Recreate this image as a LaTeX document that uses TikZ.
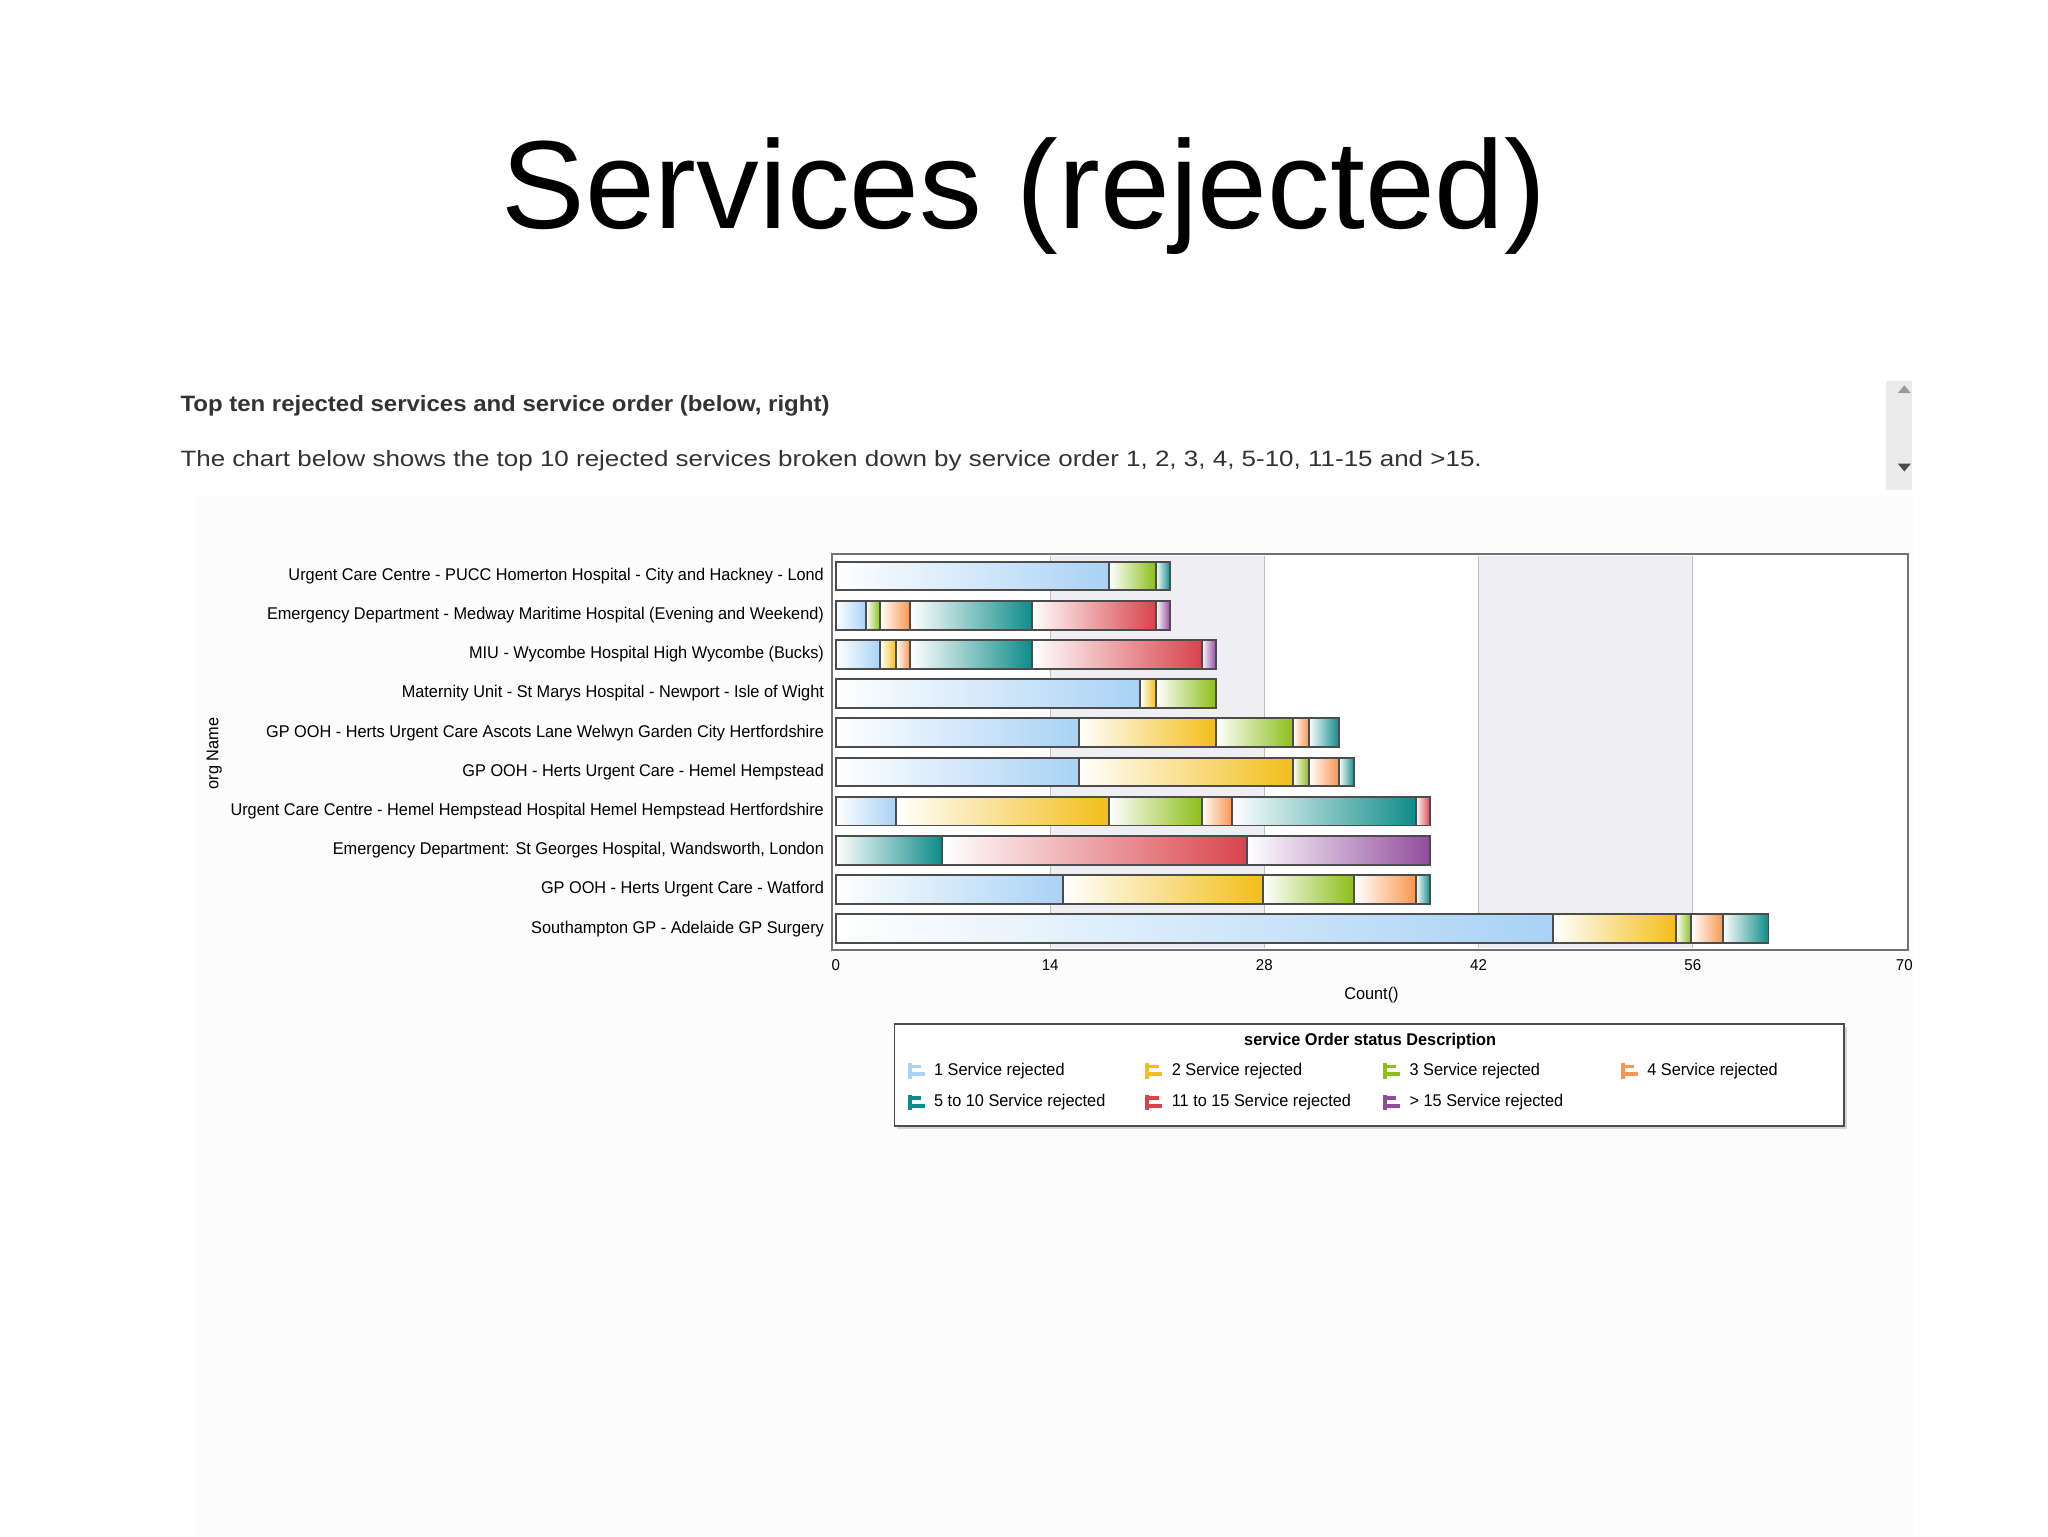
\documentclass[tikz,border=0pt]{standalone}
\usepackage{fontspec}
\setmainfont{Liberation Sans}
\usetikzlibrary{shadows}
\definecolor{cb}{HTML}{A9D2F5}
\definecolor{cy}{HTML}{F3BE19}
\definecolor{cg}{HTML}{8DBE1A}
\definecolor{co}{HTML}{FA9650}
\definecolor{ct}{HTML}{0F8C8A}
\definecolor{cr}{HTML}{D9434B}
\definecolor{cp}{HTML}{914C9C}
\definecolor{band}{HTML}{EFEEF2}
\newcommand{\nar}[1]{\scalebox{0.96}[1]{#1}}
\tikzset{seg/.style={draw=black!70,line width=1.5pt,left color=white,right color=#1},
lab/.style={anchor=east,font=\fontsize{13}{15}\selectfont,inner sep=0},
leg/.style={anchor=west,font=\fontsize{13}{15}\selectfont,inner sep=0}}
\begin{document}
\begin{tikzpicture}[x=1pt,y=-1pt]
\useasboundingbox (0,0) rectangle (1568,1176);
\fill[white] (0,0) rectangle (1568,1176);
\fill[black!1] (150,380) rectangle (1465,1176);
\node[font=\fontsize{96}{100}\selectfont] (title) at (784,150) {Services (rejected)};
\node[anchor=west,font=\bfseries\fontsize{17}{18}\selectfont,text=black!80,inner sep=0] (h1) at (138,311) {\scalebox{1.08}[1]{Top ten rejected services and service order (below, right)}};
\node[anchor=west,font=\fontsize{17}{18}\selectfont,text=black!80,inner sep=0] (h2) at (138,353) {\scalebox{1.17}[1]{The chart below shows the top 10 rejected services broken down by service order 1, 2, 3, 4, 5-10, 11-15 and >15.}};
% scrollbar
\fill[black!8] (1444,292) rectangle (1464,375);
\fill[black!40] (1453,301) -- (1463,301) -- (1458,295) -- cycle;
\fill[black!70] (1453,355) -- (1463,355) -- (1458,361) -- cycle;
% chart
\fill[white] (637,424) rectangle (1461,727);
\fill[band] (804,426) rectangle (968,726);
\fill[band] (1132,426) rectangle (1296,726);
\foreach \x in {804,968,1132,1296} \draw[black!25] (\x,426) -- (\x,726);
\draw[black!55,line width=1.5pt] (637,424) rectangle (1461,727);
\foreach \x/\t in {640/0,804/14,968/28,1132/42,1296/56,1458/70}
  \node[font=\fontsize{12}{14}\selectfont] at (\x,739) {\nar{\t}};
\node[font=\fontsize{13}{15}\selectfont] (xl) at (1050,762) {\nar{Count()}};
\node[font=\fontsize{13}{15}\selectfont,rotate=90] (yl) at (164,577) {\nar{org Name}};
\def\bar#1#2{\foreach \a/\b/\c in {#2} \draw[seg=\c] (\a,#1-11) rectangle (\b,#1+11);}
\bar{441}{640/849/cb,849/885/cg,885/896/ct}
\bar{471}{640/663/cb,663/674/cg,674/697/co,697/790/ct,790/885/cr,885/896/cp}
\bar{501}{640/674/cb,674/686/cy,686/697/co,697/790/ct,790/920/cr,920/931/cp}
\bar{531}{640/873/cb,873/885/cy,885/931/cg}
\bar{561}{640/826/cb,826/931/cy,931/990/cg,990/1002/co,1002/1025/ct}
\bar{591}{640/826/cb,826/990/cy,990/1002/cg,1002/1025/co,1025/1037/ct}
\bar{621}{640/686/cb,686/849/cy,849/920/cg,920/943/co,943/1084/ct,1084/1095/cr}
\bar{651}{640/721/ct,721/955/cr,955/1095/cp}
\bar{681}{640/814/cb,814/967/cy,967/1037/cg,1037/1084/co,1084/1095/ct}
\bar{711}{640/1189/cb,1189/1283/cy,1283/1295/cg,1295/1319/co,1319/1354/ct}
\foreach \y/\t in {441/Urgent Care Centre - PUCC Homerton Hospital - City and Hackney - Lond,
471/Emergency Department - Medway Maritime Hospital (Evening and Weekend),
501/MIU - Wycombe Hospital High Wycombe (Bucks),
531/Maternity Unit - St Marys Hospital - Newport - Isle of Wight,
561/GP OOH - Herts Urgent Care Ascots Lane Welwyn Garden City Hertfordshire,
591/GP OOH - Herts Urgent Care - Hemel Hempstead,
621/Urgent Care Centre - Hemel Hempstead Hospital Hemel Hempstead Hertfordshire,
651/Emergency Department: St Georges Hospital{,} Wandsworth{,} London,
681/GP OOH - Herts Urgent Care - Watford,
711/Southampton GP - Adelaide GP Surgery}
  \node[lab] at (631,\y) {\nar{\t}};
\draw[black!70,line width=1.2pt,fill=white,drop shadow={opacity=0.3,shadow xshift=2pt,shadow yshift=-2pt}] (685,784) rectangle (1412,862);
\node[font=\bfseries\fontsize{13}{15}\selectfont] (lt) at (1049,797) {\nar{service Order status Description}};
\foreach \x/\y/\c/\t in {695/820/cb/1 Service rejected,877/820/cy/2 Service rejected,1059/820/cg/3 Service rejected,1241/820/co/4 Service rejected,
695/844/ct/5 to 10 Service rejected,877/844/cr/11 to 15 Service rejected,1059/844/cp/> 15 Service rejected}{
  \fill[\c] (\x,\y-6) rectangle (\x+3,\y+6);
  \fill[\c] (\x+3,\y-5) rectangle (\x+10,\y-2);
  \fill[\c] (\x+3,\y+1) rectangle (\x+13,\y+4);
  \node[leg] at (\x+20,\y) {\nar{\t}};}
\end{tikzpicture}
\end{document}
